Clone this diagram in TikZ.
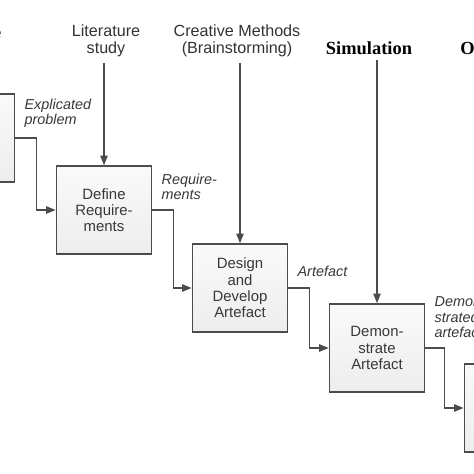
\documentclass[tikz,border=0pt]{standalone}
\usepackage{fontspec}
\setmainfont{Liberation Sans}
\newfontfamily\serifbf{Liberation Serif}
\usetikzlibrary{arrows.meta}
\definecolor{boxline}{HTML}{4C4C4C}
\definecolor{boxtext}{HTML}{383838}
\tikzset{
  stepbox/.style={draw=boxline, line width=0.9pt, top color=gray!4, bottom color=gray!14,
    minimum width=1.9cm, minimum height=1.76cm, inner sep=0pt, align=center,
    text=boxtext, font=\fontsize{8.5}{9.3}\selectfont},
  flow/.style={draw=boxline, line width=0.8pt, -{Triangle[length=5.5pt,width=4.2pt]}},
  outlbl/.style={align=left, inner sep=0pt, anchor=south west, text=boxtext,
    font=\fontsize{8.2}{8.8}\selectfont\itshape},
  method/.style={align=center, inner sep=0pt, text=black!80,
    font=\fontsize{9.2}{9.7}\selectfont},
}

\begin{document}
\begin{tikzpicture}[x=0.02cm,y=-0.02cm]
\useasboundingbox (0,0) rectangle (474,474);
\clip (0,0) rectangle (474,474);
% boxes
\node[stepbox] (b1) at (-33,138) {};
\node[stepbox] (b2) at (104,210) {Define\\Require-\\ments};
\node[stepbox] (b3) at (240,288) {Design\\and\\Develop\\Artefact};
\node[stepbox] (b4) at (377,348) {Demon-\\strate\\Artefact};
\node[stepbox] (b5) at (512,408) {};
% methods on top
\node[method, anchor=east] (prc) at (2,33) {Practice};
\node[method] (lit) at (106,41) {Literature\\study};
\node[method] (cre) at (237,41) {Creative Methods\\(Brainstorming)};
\node[method, text=black, font=\serifbf\bfseries\fontsize{10.5}{11}\selectfont] (sim) at (369,48) {Simulation};
\node[method, anchor=west, text=black, font=\serifbf\bfseries\fontsize{10.5}{11}\selectfont] (obs) at (460,48) {Observation};
% method arrows
\draw[flow, shorten <=3pt] (lit.south -| b2.north) -- (b2.north);
\draw[flow, shorten <=3pt] (cre.south -| b3.north) -- (b3.north);
\draw[flow, shorten <=3pt] (sim.south -| b4.north) -- (b4.north);
% step to step
\draw[flow] (b1.east) -- ++(21,0) |- (b2.west);
\draw[flow] (b2.east) -- ++(21,0) |- (b3.west);
\draw[flow] (b3.east) -- ++(21,0) |- (b4.west);
\draw[flow] (b4.east) -- ++(19,0) |- (b5.west);
% outcomes
\node[outlbl] (o1) at ([shift={(9,-10)}]b1.east) {Explicated\\problem};
\node[outlbl] (o2) at ([shift={(9,-10)}]b2.east) {Require-\\ments};
\node[outlbl] (o3) at ([shift={(9,-11)}]b3.east) {Artefact};
\node[outlbl] (o4) at ([shift={(9,-10)}]b4.east) {Demon-\\strated\\artefact};
\end{tikzpicture}
\end{document}
